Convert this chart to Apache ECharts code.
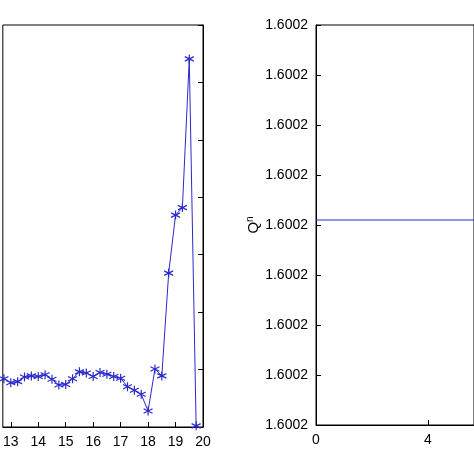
<!DOCTYPE html>
<html><head><meta charset="utf-8">
<script src="https://cdn.jsdelivr.net/npm/echarts@6/dist/echarts.min.js"></script>
<style>html,body{margin:0;padding:0;background:#fff}#c{width:474px;height:474px}</style>
</head><body><div id="c"></div>
<script>
const leftX = [12.75,13,13.25,13.5,13.75,14,14.25,14.5,14.75,15,15.25,15.5,15.75,16,16.25,16.5,16.75,17,17.25,17.5,17.75,18,18.25,18.5,18.75,19,19.25,19.5,19.75];
const leftY = [0.84,0.77,0.79,0.87,0.89,0.88,0.91,0.83,0.73,0.74,0.84,0.96,0.94,0.88,0.95,0.92,0.88,0.85,0.70,0.64,0.57,0.28,1.01,0.89,2.68,3.69,3.82,6.41,0.02];
const leftTicks = [13,14,15,16,17,18,19,20];
const rightX = [0, 6];
const rightY = [4.1, 4.1];
const rightXTicks = [0,4];
const rightTickLabel = '1.6002';
const blue = '#2a2acc';
const font = 'Liberation Sans, Arial, sans-serif';
const star = 'path://M0,-1L0,1M-0.87,-0.5L0.87,0.5M-0.87,0.5L0.87,-0.5';
const chart = echarts.init(document.getElementById('c'));
const axBase = {axisLine:{show:true,lineStyle:{color:'#000',width:1}},axisTick:{show:true,inside:true,length:5,lineStyle:{color:'#000'}},splitLine:{show:false}};
const lab = {color:'#000',fontSize:14,fontFamily:font,margin:8};
chart.setOption({
  animation:false,
  grid:[
    {left:0,top:25,width:203,height:402,show:true,borderColor:'#000',borderWidth:1,containLabel:false},
    {left:316,top:25,width:170,height:400,show:true,borderColor:'#000',borderWidth:1,containLabel:false}
  ],
  xAxis:[
    Object.assign({},axBase,{gridIndex:0,type:'value',min:12.71,max:20.0,
      axisTick:{show:true,inside:true,length:5,lineStyle:{color:'#000'},customValues:leftTicks},
      axisLabel:Object.assign({},lab,{customValues:leftTicks})}),
    Object.assign({},axBase,{gridIndex:1,type:'value',min:0,max:158/28,
      axisTick:{show:true,inside:true,length:5,lineStyle:{color:'#000'},customValues:rightXTicks},
      axisLabel:Object.assign({},lab,{customValues:rightXTicks})})
  ],
  yAxis:[
    Object.assign({},axBase,{gridIndex:0,type:'value',min:0,max:7,interval:1,position:'right',axisLabel:{show:false}}),
    Object.assign({},axBase,{gridIndex:1,type:'value',min:0,max:8,interval:1,axisLabel:Object.assign({},lab,{formatter:()=>rightTickLabel}),
      name:'{a|Q}{b|n}',nameLocation:'middle',nameRotate:90,nameGap:48,
      nameTextStyle:{rich:{a:{fontSize:15,fontFamily:font,color:'#000'},b:{fontSize:10,fontFamily:font,color:'#000',verticalAlign:'top',padding:[0,0,8,0]}}}})
  ],
  series:[
    {type:'line',xAxisIndex:0,yAxisIndex:0,data:leftX.map((x,i)=>[x,leftY[i]]),symbol:star,symbolSize:9,showAllSymbol:true,
     lineStyle:{color:blue,width:1},itemStyle:{color:blue,borderColor:blue,borderWidth:1.2},clip:true},
    {type:'line',xAxisIndex:1,yAxisIndex:1,data:rightX.map((x,i)=>[x,rightY[i]]),symbol:'none',lineStyle:{color:blue,width:1}}
  ]
});
</script></body></html>
